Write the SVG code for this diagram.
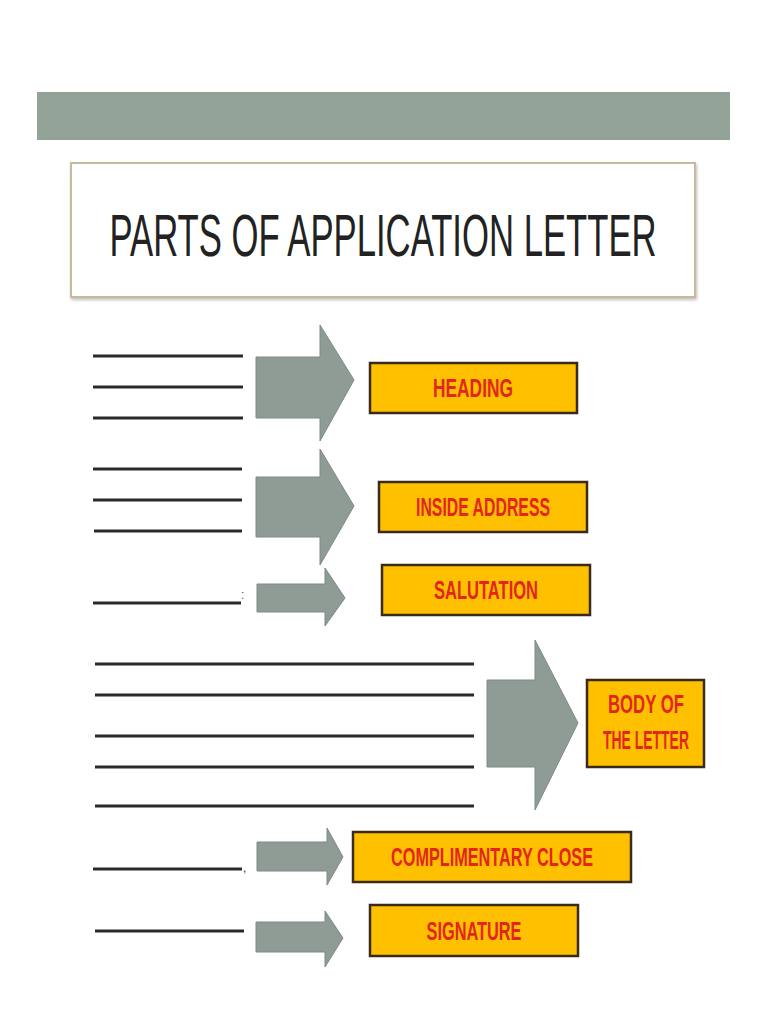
<svg xmlns="http://www.w3.org/2000/svg" width="768" height="1024" viewBox="0 0 768 1024">
<style>
.ln{stroke:#2a2a2a;stroke-width:3;fill:none}
.arr{fill:#8f9c95;stroke:#7e8a84;stroke-width:1}
.box{fill:#ffc000;stroke:#3a2a1a;stroke-width:2.5}
.lbl{font-family:"Liberation Sans",Arial,sans-serif;font-weight:bold;font-size:26px;fill:#e3261c;text-anchor:middle}
.title{font-family:"Liberation Sans",Arial,sans-serif;font-size:60px;fill:#222;text-anchor:middle}
</style>
<defs>
<filter id="sh" x="-5%" y="-5%" width="110%" height="115%">
<feDropShadow dx="1" dy="2" stdDeviation="1.5" flood-color="#000" flood-opacity="0.25"/>
</filter>
</defs>
<rect width="768" height="1024" fill="#fff"/>
<rect x="37" y="92" width="693" height="48" fill="#93a398"/>
<g id="title">
<rect x="71" y="163" width="624" height="134" fill="#fff" stroke="#c8b89c" stroke-width="2" filter="url(#sh)"/>
<g transform="translate(383,256) scale(0.564,1)">
<text class="title" x="0" y="0" textLength="970" lengthAdjust="spacingAndGlyphs">PARTS OF APPLICATION LETTER</text>
</g>
</g>
<g id="connectors">
<g id="lines">
<line class="ln" x1="93" y1="356" x2="243" y2="356"/>
<line class="ln" x1="93" y1="387" x2="243" y2="387"/>
<line class="ln" x1="93" y1="418" x2="243" y2="418"/>
<line class="ln" x1="93" y1="469" x2="242" y2="469"/>
<line class="ln" x1="93" y1="500" x2="242" y2="500"/>
<line class="ln" x1="94" y1="531" x2="242" y2="531"/>
<line class="ln" x1="93" y1="603" x2="241" y2="603"/>
<line class="ln" x1="95" y1="664" x2="474" y2="664"/>
<line class="ln" x1="95" y1="695" x2="474" y2="695"/>
<line class="ln" x1="95" y1="736" x2="474" y2="736"/>
<line class="ln" x1="95" y1="767" x2="474" y2="767"/>
<line class="ln" x1="95" y1="806" x2="474" y2="806"/>
<line class="ln" x1="93" y1="869" x2="242" y2="869"/>
<line class="ln" x1="95" y1="931" x2="244" y2="931"/>
</g>
<text x="241" y="599" font-family="Liberation Sans,Arial,sans-serif" font-size="12" fill="#555">:</text>
<text x="243" y="872" font-family="Liberation Sans,Arial,sans-serif" font-size="12" fill="#333">,</text>
<polygon class="arr" points="256,357 320,357 320,325 354,380 320,441 320,418 256,418"/>
<polygon class="arr" points="256,477 320,477 320,449 354,506 320,565 320,537 256,537"/>
<polygon class="arr" points="257,584 325,584 325,568 345,598 325,626 325,612 257,612"/>
<polygon class="arr" points="487,680 535,680 535,640 578,723 535,810 535,767 487,767"/>
<polygon class="arr" points="257,842 327,842 327,828 343,857 327,885 327,871 257,871"/>
<polygon class="arr" points="256,922 325,922 325,911 343,938 325,967 325,952 256,952"/>
</g>
<g id="heading">
<rect class="box" x="370" y="363" width="207" height="50"/>
<text class="lbl" x="473" y="397" textLength="80" lengthAdjust="spacingAndGlyphs">HEADING</text>
</g>
<g id="inside-address">
<rect class="box" x="379" y="482" width="208" height="50"/>
<text class="lbl" x="483" y="516" textLength="134" lengthAdjust="spacingAndGlyphs">INSIDE ADDRESS</text>
</g>
<g id="salutation">
<rect class="box" x="382" y="565" width="208" height="50"/>
<text class="lbl" x="486" y="599" textLength="104" lengthAdjust="spacingAndGlyphs">SALUTATION</text>
</g>
<g id="body">
<rect class="box" x="587" y="680" width="117" height="87"/>
<text class="lbl" x="646" y="713" textLength="76" lengthAdjust="spacingAndGlyphs">BODY OF</text>
<text class="lbl" x="646" y="749" textLength="86" lengthAdjust="spacingAndGlyphs">THE LETTER</text>
</g>
<g id="complimentary-close">
<rect class="box" x="353" y="832" width="278" height="50"/>
<text class="lbl" x="492" y="866" textLength="202" lengthAdjust="spacingAndGlyphs">COMPLIMENTARY CLOSE</text>
</g>
<g id="signature">
<rect class="box" x="370" y="905" width="208" height="51"/>
<text class="lbl" x="474" y="940" textLength="95" lengthAdjust="spacingAndGlyphs">SIGNATURE</text>
</g>
</svg>
